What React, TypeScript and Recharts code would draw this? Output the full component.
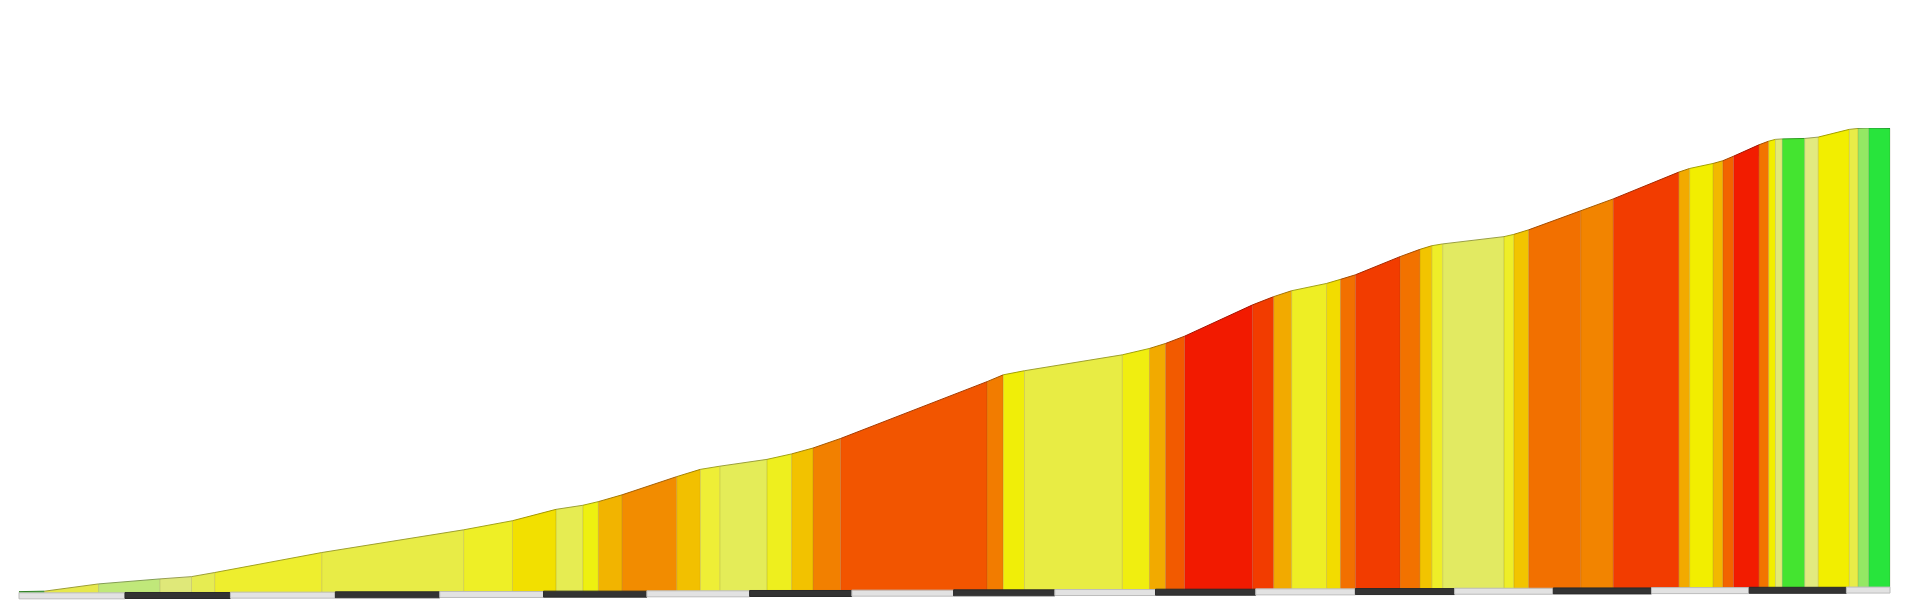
import React from 'react';
import { ComposedChart, Area, XAxis, YAxis, ReferenceLine, ReferenceArea } from 'recharts';

// Distance (km) of each gradient-segment boundary along the climb
const boundaryKm = [
  0, 0.24, 0.75, 1.33, 1.63, 1.85, 2.87, 4.23, 4.7, 5.12, 5.38, 5.53, 5.76, 6.29, 6.52, 6.71,
  7.17, 7.41, 7.62, 7.89, 9.33, 9.49, 9.7, 10.67, 10.94, 11.1, 11.29, 11.97, 12.18, 12.36, 12.71,
  12.85, 13.0, 13.45, 13.65, 13.77, 13.88, 14.5, 14.6, 14.75, 15.28, 15.61, 16.28, 16.39, 16.63,
  16.73, 16.84, 17.1, 17.2, 17.27, 17.34, 17.57, 17.71, 18.03, 18.12, 18.23, 18.45,
];

// Height gained (m) at each boundary
const elevationM = [
  3, 4, 20, 31, 36, 45, 89, 139, 159, 184, 193, 201, 216, 256, 272, 279, 294, 306, 319, 340,
  465, 480, 489, 524, 538, 549, 565, 634, 652, 665, 681, 690, 700, 740, 756, 764, 768, 784, 789,
  799, 841, 867, 926, 934, 945, 951, 961, 986, 994, 998, 999, 1000, 1003, 1020, 1022, 1023, 1022,
];

// Gradient colour of each segment (between consecutive boundaries)
const segmentColors = [
  '#48bf38', '#e6e84c', '#c0e87a', '#dfe879', '#e6ec52', '#eeee2e', '#e8ec46', '#eeef26',
  '#f2e000', '#e6ec52', '#eef010', '#f2b400', '#f28c00', '#f2c000', '#eeee36', '#e4ec58',
  '#eeef1e', '#f2c200', '#f28000', '#f25500', '#f27c00', '#f0ee08', '#e8ec44', '#f0ee10',
  '#f2aa00', '#f25a00', '#f21a00', '#f23c00', '#f2aa00', '#eeee24', '#f2dc00', '#f27000',
  '#f23c00', '#f27200', '#f2c400', '#eeee28', '#e2ea62', '#eeee28', '#f2c400', '#f27000',
  '#f28400', '#f23c00', '#f2aa00', '#f2ee00', '#f2b800', '#f26400', '#f21c00', '#f27400',
  '#f2ee00', '#e2ea76', '#44e430', '#e2ea80', '#f2ee00', '#e8ec48', '#94e864', '#28e43c',
];

// Kilometre marks of the scale bar
const kmMarks = [0, 1, 2, 3, 4, 5, 6, 7, 8, 9, 10, 11, 12, 13, 14, 15, 16, 17, 18, 18.45];

const TOTAL_KM = 18.45;
const MAX_ELEV = 1023;
const PERSPECTIVE = 0.0026; // far end recedes slightly
const SCALE_BAR_M = 13.2; // thickness of the km bar, in elevation units
const BASE_RISE_M = 13.2; // the ground line rises toward the far end

const project = (km: number) => km / (1 + PERSPECTIVE * km);
const tilt = (km: number) => (BASE_RISE_M * project(km)) / project(TOTAL_KM);

type Row = { km: number; elev: number };
const rows: Row[] = boundaryKm.map((km, i) => ({ km, elev: elevationM[i] }));

function darken(hex: string, f: number) {
  const n = parseInt(hex.slice(1), 16);
  const r = Math.round(((n >> 16) & 255) * f);
  const g = Math.round(((n >> 8) & 255) * f);
  const b = Math.round((n & 255) * f);
  return `rgb(${r},${g},${b})`;
}

export default function App() {
  return (
    <div style={{ position: 'absolute', left: 0, top: 0, width: 1920, height: 600, background: '#fff' }}>
      <ComposedChart
        width={1920}
        height={600}
        data={rows}
        margin={{ top: 128, right: 30, bottom: 1, left: 19 }}
      >
        <XAxis
          type="number"
          dataKey={(r: Row) => project(r.km)}
          domain={[0, project(TOTAL_KM)]}
          allowDataOverflow
          hide
        />
        <YAxis type="number" domain={[-SCALE_BAR_M, MAX_ELEV]} allowDataOverflow hide />
        {segmentColors.map((c, i) => (
          <Area
            key={'seg' + i}
            type="linear"
            dataKey={(r: Row) =>
              r.km === boundaryKm[i] || r.km === boundaryKm[i + 1] ? r.elev : null
            }
            baseValue={0}
            connectNulls
            fill={c}
            fillOpacity={1}
            stroke={darken(c, 0.68)}
            strokeWidth={1}
            dot={false}
            activeDot={false}
            isAnimationActive={false}
          />
        ))}
        {boundaryKm.map((km, i) => (
          <ReferenceLine
            key={'sep' + i}
            segment={[
              { x: project(km), y: tilt(km) },
              { x: project(km), y: elevationM[i] },
            ]}
            stroke="rgba(60,40,0,0.16)"
            strokeWidth={1}
          />
        ))}
        {kmMarks.slice(0, -1).map((km, k) => {
          const hi = kmMarks[k + 1];
          const mid = (km + hi) / 2;
          const light = k % 2 === 0;
          return (
            <ReferenceArea
              key={'bar' + k}
              x1={project(km)}
              x2={project(hi)}
              y1={tilt(mid) - SCALE_BAR_M}
              y2={tilt(mid)}
              fill={light ? '#e2e2e2' : '#333333'}
              fillOpacity={1}
              stroke={light ? '#bcbcbc' : '#2a2a2a'}
              strokeWidth={1}
              zIndex={1000}
            />
          );
        })}
      </ComposedChart>
    </div>
  );
}
